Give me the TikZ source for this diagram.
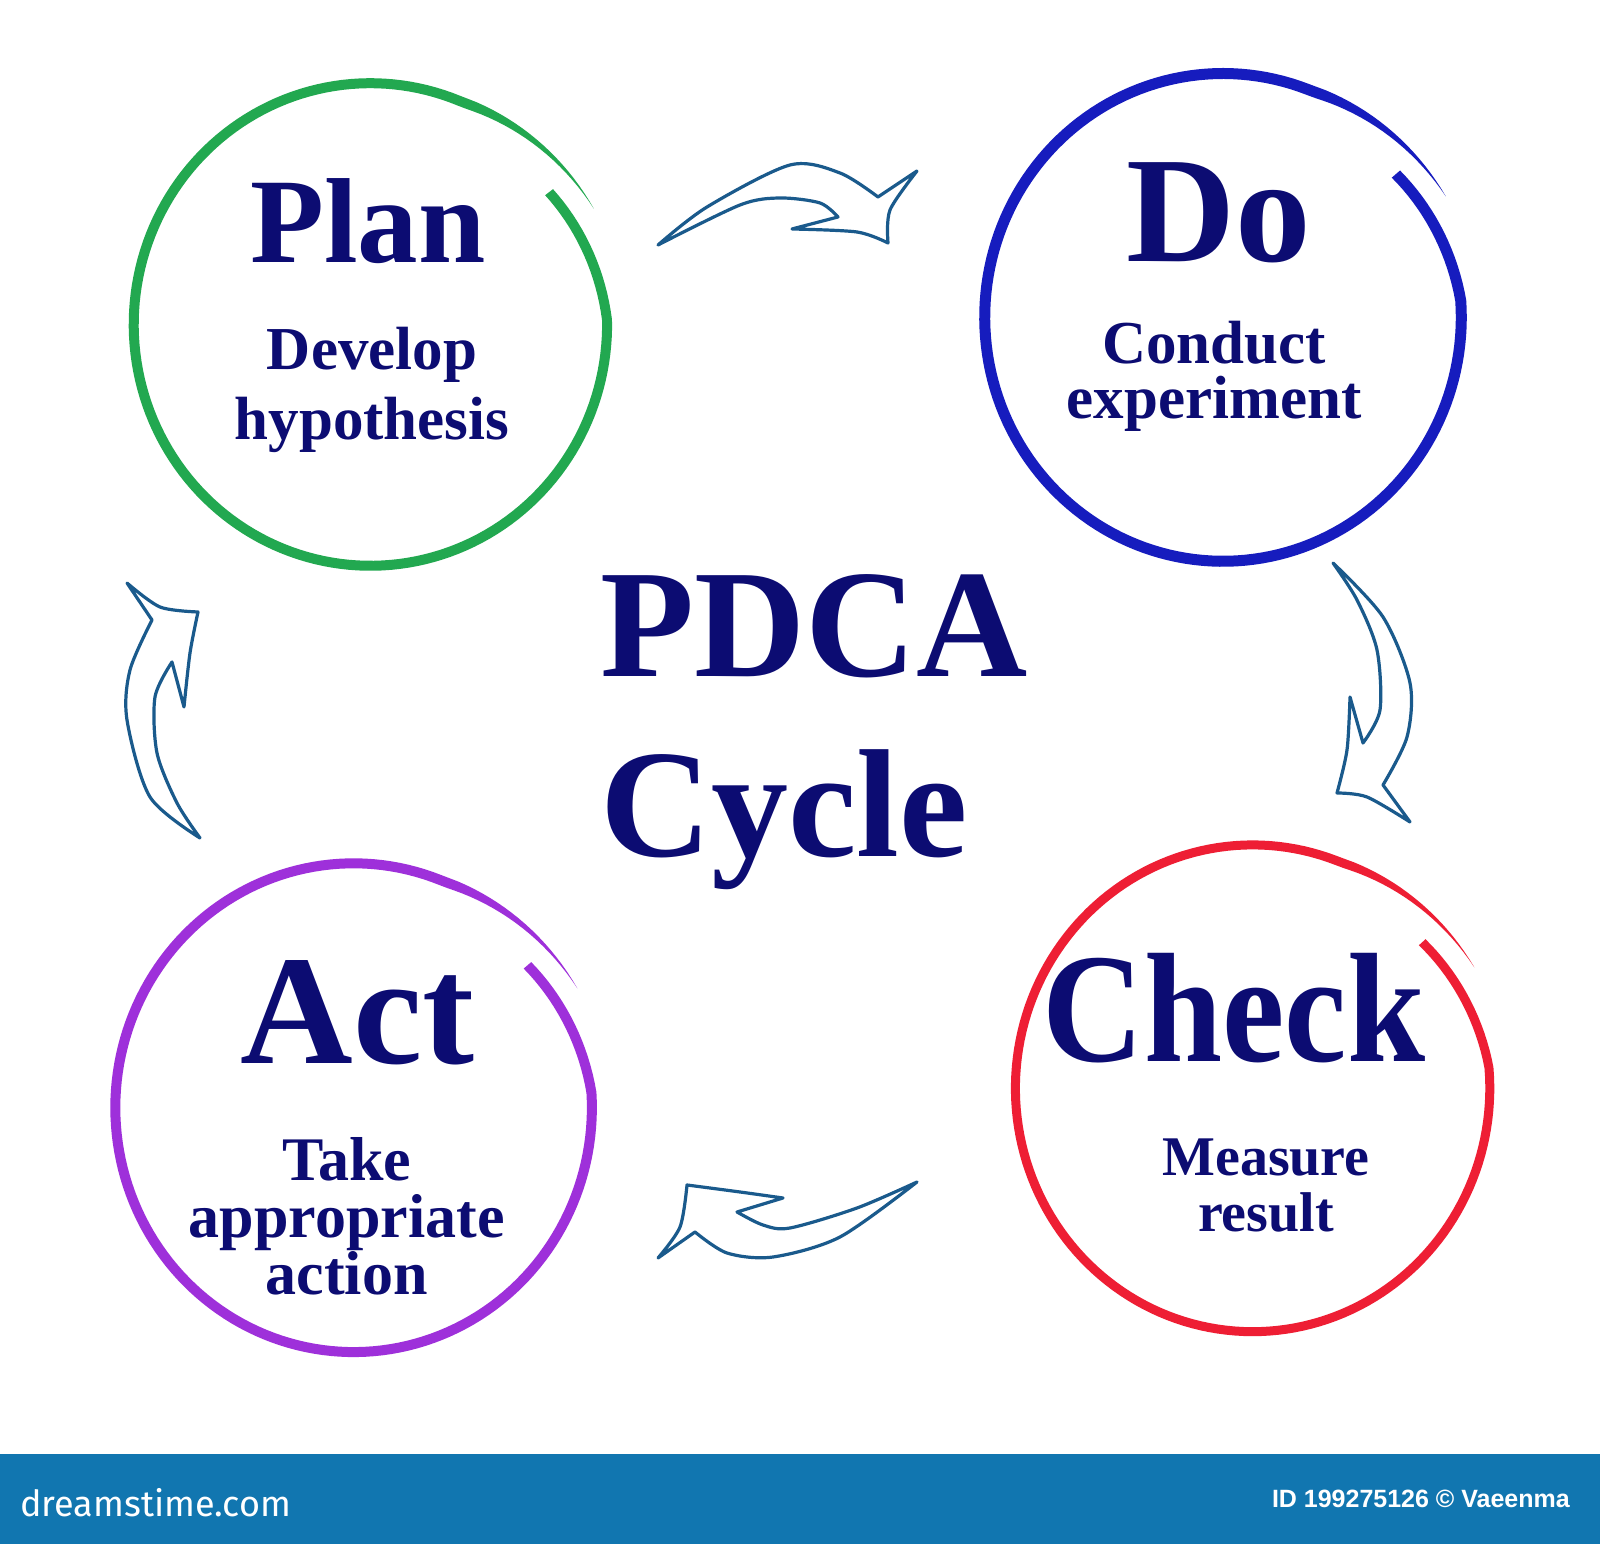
\documentclass[tikz,border=0pt]{standalone}
\usepackage{fontspec}
\setmainfont{Liberation Serif}
\newfontfamily\barfont{Liberation Sans}
\newfontfamily\logofont{Fira Sans}
\usetikzlibrary{positioning}

\definecolor{navytext}{RGB}{12,12,114}
\definecolor{plangreen}{RGB}{34,168,80}
\definecolor{doblue}{RGB}{22,28,190}
\definecolor{checkred}{RGB}{238,30,52}
\definecolor{actpurple}{RGB}{158,48,218}
\definecolor{arrowblue}{RGB}{26,90,140}
\definecolor{barblue}{RGB}{17,118,176}

% brush ring: centre x, centre y, radius x, radius y, start angle, end angle, half width, colour
\newcommand\ringoff{(-16*max(0,1-\t*\ringsweep/35)+14*max(0,1-(1-\t)*\ringsweep/40))}
\newcommand\ringwd{(\ringhalf*min(1,(1-\t)*\ringsweep/38))}
\newcommand\pdcaring[8]{%
  \pgfmathsetmacro\ringsweep{#5-#6+360}%
  \def\ringhalf{#7}%
  \fill[#8] plot[domain=0:1,samples=181,variable=\t]
      ({#1+(#3+\ringoff+\ringwd)*cos(#5-\ringsweep*\t)},{#2+(#4+\ringoff+\ringwd)*sin(#5-\ringsweep*\t)})
    -- plot[domain=1:0,samples=181,variable=\t]
      ({#1+(#3+\ringoff-\ringwd)*cos(#5-\ringsweep*\t)},{#2+(#4+\ringoff-\ringwd)*sin(#5-\ringsweep*\t)})
    -- cycle;}

\begin{document}
\begin{tikzpicture}[x=1pt,y=1pt,
  headtext/.style={text=navytext,inner sep=0pt,anchor=base,font=\bfseries\fontsize{#1}{#1}\selectfont},
  subtext/.style 2 args={text=navytext,inner sep=0pt,anchor=base,align=center,font=\bfseries\fontsize{#1}{#2}\selectfont},
  bentarrow/.style={draw=arrowblue,fill=white,line width=3.2pt,line join=round}]
  \useasboundingbox (0,0) rectangle (1600,1544);
  \fill[white] (0,0) rectangle (1600,1544);

  % the four rings
  \pdcaring{370.4}{1219.5}{236.7}{241.3}{36}{27}{5}{plangreen}
  \pdcaring{1223}{1226.6}{238.3}{243.9}{39}{28}{5.5}{doblue}
  \pdcaring{1252.6}{455.7}{237.2}{243.4}{40}{28}{4.5}{checkred}
  \pdcaring{353.6}{436.3}{238.3}{244.4}{38.6}{27.5}{5}{actpurple}

  % texts (multi-line nodes sit on the last line)
  \node[headtext=121] (plan) at (368,1281.3) {Plan};
  \node[subtext={61}{70}] (plantext) at (372,1104) {Develop\\hypothesis};
  \node[headtext=151] (do) at (1219,1282.3) {Do};
  \node[subtext={61}{55}] (dotext) at (1214,1125) {Conduct\\experiment};
  \node[headtext=154,align=left,anchor=base west,font=\bfseries\fontsize{154}{180}\selectfont] (title) at (600,687.3) {PDCA\\Cycle};
  \node[headtext=156] (check) at (1234,482.3) {\scalebox{0.9}[1]{Check}};
  \node[subtext={56}{56}] (checktext) at (1266,312.3) {Measure\\result};
  \node[headtext=156] (act) at (357.5,480.7) {Act};
  \node[subtext={62}{57}] (acttext) at (346.7,249) {Take\\appropriate\\action};

  % Plan -> Do
  \draw[bentarrow] plot[smooth] coordinates {(658,1299) (707,1337) (790,1379) (840,1371) (878,1347)}
    -- (917,1373) -- plot[smooth] coordinates {(917,1373) (890,1334) (888,1301)}
    -- plot[smooth] coordinates {(888,1301) (857,1312) (792,1315)}
    -- (838,1327) -- plot[smooth] coordinates {(838,1327) (820,1341) (780,1346) (740,1339) (658,1299)} -- cycle;
  % Do -> Check
  \draw[bentarrow] plot[smooth] coordinates {(1333,981) (1383,927) (1410,861) (1407,807) (1383,759)}
    -- (1410,722) -- plot[smooth] coordinates {(1410,722) (1367,747) (1337,751)}
    -- plot[smooth] coordinates {(1337,751) (1347,794) (1350,847)}
    -- (1363,801) -- plot[smooth] coordinates {(1363,801) (1380,834) (1377,894) (1357,944) (1333,981)} -- cycle;
  % Check -> Act
  \draw[bentarrow] plot[smooth] coordinates {(917,362) (857,336) (790,316) (763,319) (737,332)}
    -- (783,346) -- plot[smooth] coordinates {(783,346) (740,352) (687,359)}
    -- plot[smooth] coordinates {(687,359) (680,317) (658,286)}
    -- (695,312) -- plot[smooth] coordinates {(695,312) (727,291) (773,287) (840,307) (917,362)} -- cycle;
  % Act -> Plan
  \draw[bentarrow] plot[smooth] coordinates {(200,706) (177,741) (157,791) (155,847) (172,882)}
    -- (184,837) -- plot[smooth] coordinates {(184,837) (190,891) (198,932)}
    -- plot[smooth] coordinates {(198,932) (160,937) (127,961)}
    -- (152,924) -- plot[smooth] coordinates {(152,924) (130,874) (127,824) (150,747) (200,706)} -- cycle;

  % bottom strip
  \fill[barblue] (0,0) rectangle (1600,90);
  \node[text=white,inner sep=0pt,anchor=base west,font=\logofont\fontsize{36}{36}\selectfont] (logo) at (20,28) {dreamstime.com};
  \node[text=white,inner sep=0pt,anchor=base east,font=\barfont\bfseries\fontsize{25}{25}\selectfont] (imageid) at (1570,37) {ID 199275126 © Vaeenma};
\end{tikzpicture}
\end{document}
